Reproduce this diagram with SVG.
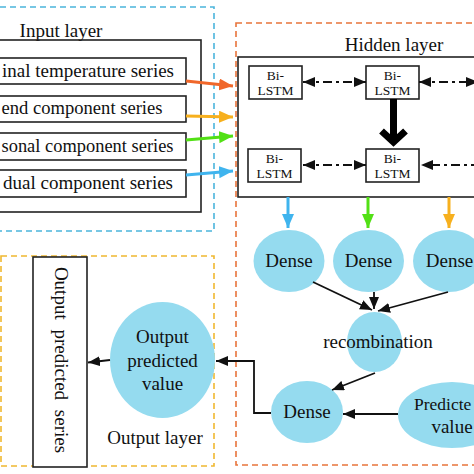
<svg xmlns="http://www.w3.org/2000/svg" width="474" height="474" viewBox="0 0 474 474">
<style>
text{font-family:"Liberation Serif","Times New Roman",serif;font-size:19px;fill:#111;}
.sm{font-size:13.5px;}
.mid{text-anchor:middle;}
.end{text-anchor:end;}
.box{fill:#fff;stroke:#222;stroke-width:1.6;}
.frame{fill:none;stroke:#222;stroke-width:1.6;}
.ell{fill:#95dbef;stroke:none;}
.dash{fill:none;stroke-width:1.6;stroke-dasharray:6,4;}
.k{stroke:#111;stroke-width:1.8;fill:none;}
.kd{stroke:#111;stroke-width:2;fill:none;stroke-dasharray:9,4,3,4;}
.c{stroke-width:3;fill:none;}
</style>
<defs>
<marker id="ak" markerUnits="userSpaceOnUse" markerWidth="12" markerHeight="10" refX="12" refY="5" orient="auto-start-reverse"><path d="M0,0 L12,5 L0,10 z" fill="#111"/></marker>
<marker id="ao" markerUnits="userSpaceOnUse" markerWidth="14" markerHeight="12" refX="14" refY="6" orient="auto"><path d="M0,0 L14,6 L0,12 z" fill="#f0672a"/></marker>
<marker id="ay" markerUnits="userSpaceOnUse" markerWidth="14" markerHeight="12" refX="14" refY="6" orient="auto"><path d="M0,0 L14,6 L0,12 z" fill="#f7b01e"/></marker>
<marker id="ag" markerUnits="userSpaceOnUse" markerWidth="14" markerHeight="12" refX="14" refY="6" orient="auto"><path d="M0,0 L14,6 L0,12 z" fill="#52e015"/></marker>
<marker id="ab" markerUnits="userSpaceOnUse" markerWidth="14" markerHeight="12" refX="14" refY="6" orient="auto"><path d="M0,0 L14,6 L0,12 z" fill="#3fb4ee"/></marker>
</defs>

<!-- layer frames -->
<g id="input-layer">
<rect class="dash" x="-20" y="7" width="234" height="224" stroke="#4bb5dc"/>
<text x="61" y="37" class="mid">Input layer</text>
<rect class="frame" x="-60" y="40" width="261" height="172"/>
</g>
<g id="hidden-layer">
<rect class="dash" x="236" y="23" width="260" height="442" stroke="#e8743b"/>
<text x="394" y="51" class="mid">Hidden layer</text>
<rect class="frame" x="238" y="57" width="260" height="140"/>
</g>
<g id="output-layer">
<rect class="dash" x="1" y="256" width="213" height="210" stroke="#f0b830"/>
<text x="155" y="444" class="mid">Output layer</text>
</g>

<!-- input series -->
<g id="series-original"><rect class="box" x="-45" y="58" width="231" height="26"/><text x="174" y="77" class="end">inal temperature series</text></g>
<g id="series-trend"><rect class="box" x="-45" y="96" width="231" height="26"/><text x="1.5" y="114" textLength="161" lengthAdjust="spacingAndGlyphs">end component series</text></g>
<g id="series-seasonal"><rect class="box" x="-45" y="133" width="231" height="27"/><text x="1.5" y="152" textLength="172" lengthAdjust="spacingAndGlyphs">sonal component series</text></g>
<g id="series-residual"><rect class="box" x="-45" y="170" width="231" height="27"/><text x="173" y="189" class="end">dual component series</text></g>

<!-- Bi-LSTM -->
<g id="bilstm-1"><rect class="box" x="249" y="66" width="53" height="33"/><text class="sm mid" x="275.5" y="80">Bi-</text><text class="sm mid" x="275.5" y="95">LSTM</text></g>
<g id="bilstm-2"><rect class="box" x="366" y="66" width="53" height="33"/><text class="sm mid" x="392.5" y="80">Bi-</text><text class="sm mid" x="392.5" y="95">LSTM</text></g>
<g id="bilstm-3"><rect class="box" x="248" y="149" width="53" height="33"/><text class="sm mid" x="274.5" y="163">Bi-</text><text class="sm mid" x="274.5" y="178">LSTM</text></g>
<g id="bilstm-4"><rect class="box" x="366" y="149" width="53" height="33"/><text class="sm mid" x="392.5" y="163">Bi-</text><text class="sm mid" x="392.5" y="178">LSTM</text></g>

<!-- Dense etc -->
<g id="dense-1"><ellipse class="ell" cx="289" cy="261" rx="35.5" ry="31"/><text class="mid" x="289" y="267">Dense</text></g>
<g id="dense-2"><ellipse class="ell" cx="368.5" cy="261" rx="35.5" ry="31"/><text class="mid" x="368.5" y="267">Dense</text></g>
<g id="dense-3"><ellipse class="ell" cx="449" cy="261" rx="36" ry="31"/><text class="mid" x="449.5" y="267">Dense</text></g>
<g id="recombination"><ellipse class="ell" cx="374.5" cy="342" rx="27.5" ry="30"/><text class="mid" x="378" y="348">recombination</text></g>
<g id="dense-out"><ellipse class="ell" cx="307" cy="412" rx="36" ry="31"/><text class="mid" x="307" y="418">Dense</text></g>
<g id="predicted-value"><ellipse class="ell" cx="452" cy="415" rx="54" ry="33"/><text x="414" y="410" style="font-size:17.5px">Predicte</text><text class="mid" x="452" y="433">value</text></g>
<g id="output-value"><ellipse class="ell" cx="162.5" cy="360" rx="52.5" ry="58"/><text class="mid" x="162.5" y="343">Output</text><text class="mid" x="162.5" y="367">predicted</text><text class="mid" x="162.5" y="390">value</text></g>
<g id="output-series"><rect class="box" x="33" y="257" width="54" height="210"/><text class="mid" transform="translate(55,360) rotate(90)" word-spacing="5">Output predicted series</text></g>

<!-- connectors -->
<g id="connectors">
<line class="c" x1="186" y1="81" x2="233" y2="86" stroke="#f0672a" marker-end="url(#ao)"/>
<line class="c" x1="186" y1="116" x2="233" y2="117" stroke="#f7b01e" marker-end="url(#ay)"/>
<line class="c" x1="186" y1="140" x2="233" y2="136" stroke="#52e015" marker-end="url(#ag)"/>
<line class="c" x1="186" y1="175" x2="233" y2="171" stroke="#3fb4ee" marker-end="url(#ab)"/>

<line class="kd" x1="303" y1="82" x2="366" y2="82" marker-start="url(#ak)" marker-end="url(#ak)"/>
<line class="kd" x1="419" y1="82" x2="478" y2="82" marker-start="url(#ak)" marker-end="url(#ak)"/>
<line class="kd" x1="303" y1="165" x2="366" y2="165" marker-start="url(#ak)" marker-end="url(#ak)"/>
<line class="kd" x1="480" y1="165" x2="421" y2="165" marker-end="url(#ak)"/>

<line x1="393.5" y1="99" x2="393.5" y2="140" stroke="#000" stroke-width="7"/>
<polyline points="381.5,131 393.5,142 405.5,131" fill="none" stroke="#000" stroke-width="7" stroke-linejoin="miter"/>

<line class="c" x1="288" y1="197" x2="288" y2="228" stroke="#3fb4ee" stroke-width="2.5" marker-end="url(#ab)"/>
<line class="c" x1="368" y1="197" x2="368" y2="228" stroke="#52e015" stroke-width="2.5" marker-end="url(#ag)"/>
<line class="c" x1="449" y1="197" x2="449" y2="228" stroke="#f7b01e" stroke-width="2.5" marker-end="url(#ay)"/>

<line class="k" x1="313" y1="282" x2="372" y2="310" marker-end="url(#ak)"/>
<line class="k" x1="374" y1="292" x2="374" y2="309" marker-end="url(#ak)"/>
<line class="k" x1="448" y1="292" x2="378" y2="311" marker-end="url(#ak)"/>
<line class="k" x1="375" y1="373" x2="332" y2="390" marker-end="url(#ak)"/>
<line class="k" x1="398" y1="414" x2="343" y2="414" marker-end="url(#ak)"/>
<polyline class="k" points="271,413 254,413 254,361 216,361" marker-end="url(#ak)"/>
<line class="k" x1="110" y1="360" x2="88" y2="362.5" marker-end="url(#ak)"/>
</g>
</svg>
